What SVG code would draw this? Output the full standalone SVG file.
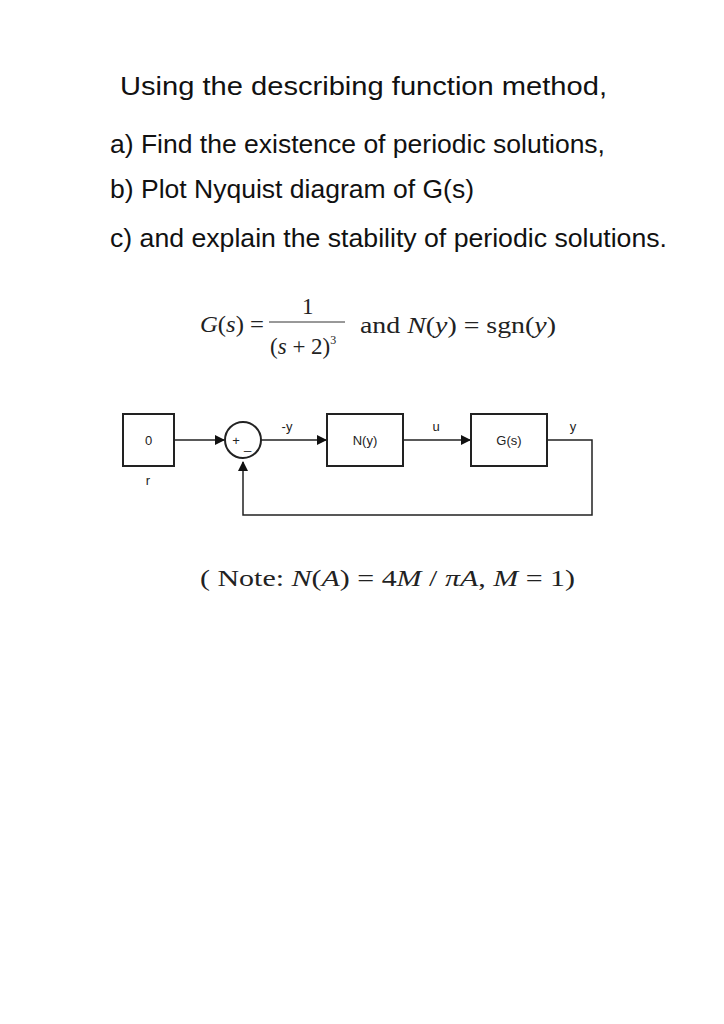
<svg xmlns="http://www.w3.org/2000/svg" width="724" height="1024" viewBox="0 0 724 1024">
<style>
.t{font-family:"Liberation Sans",Arial,sans-serif;font-size:26px;fill:#111}
.m{font-family:"Liberation Serif","Times New Roman",serif;font-size:23px;fill:#222}
.i{font-style:italic}
.b{fill:#fff;stroke:#222;stroke-width:2}
.l{font-family:"Liberation Sans",Arial,sans-serif;font-size:13px;fill:#222}
.c{fill:none;stroke:#222;stroke-width:1.5}
</style>
<defs><marker id="a" markerWidth="10" markerHeight="10" refX="9" refY="5" orient="auto" markerUnits="userSpaceOnUse"><path d="M0,0L10,5L0,10z" fill="#111"/></marker></defs>
<rect width="724" height="1024" fill="#fff"/>
<text class="t" x="120" y="95" textLength="487" lengthAdjust="spacingAndGlyphs">Using the describing function method,</text>
<text class="t" x="110" y="153" textLength="495" lengthAdjust="spacingAndGlyphs">a) Find the existence of periodic solutions,</text>
<text class="t" x="110" y="198" textLength="364" lengthAdjust="spacingAndGlyphs">b) Plot Nyquist diagram of G(s)</text>
<text class="t" x="110" y="247" textLength="557" lengthAdjust="spacingAndGlyphs">c) and explain the stability of periodic solutions.</text>
<text class="m" x="200" y="332" textLength="64" lengthAdjust="spacingAndGlyphs"><tspan class="i">G</tspan>(<tspan class="i">s</tspan>) =</text>
<text class="m" x="302" y="314">1</text>
<line x1="269" y1="322" x2="345" y2="322" stroke="#333" stroke-width="1"/>
<text class="m" x="270" y="354">(<tspan class="i">s</tspan> + 2)<tspan font-size="12" dy="-10">3</tspan></text>
<text class="m" x="360" y="333" textLength="196" lengthAdjust="spacingAndGlyphs">and <tspan class="i">N</tspan>(<tspan class="i">y</tspan>) = sgn(<tspan class="i">y</tspan>)</text>
<text class="m" x="200" y="586" textLength="375" lengthAdjust="spacingAndGlyphs">( Note: <tspan class="i">N</tspan>(<tspan class="i">A</tspan>) = 4<tspan class="i">M</tspan> / <tspan class="i">πA</tspan>,  <tspan class="i">M</tspan> = 1)</text>
<g id="conn">
<line class="c" x1="174" y1="440" x2="224" y2="440" marker-end="url(#a)"/>
<line class="c" x1="261" y1="440" x2="326" y2="440" marker-end="url(#a)"/>
<line class="c" x1="403" y1="440" x2="470" y2="440" marker-end="url(#a)"/>
<polyline class="c" points="547,440 592,440 592,515 243,515 243,462" marker-end="url(#a)"/>
</g>
<g id="r"><rect class="b" x="123" y="414" width="51" height="52"/><text class="l" x="148.5" y="445" text-anchor="middle">0</text><text class="l" x="148" y="485" text-anchor="middle">r</text></g>
<g id="sum"><circle class="b" cx="243" cy="440" r="18"/><text class="l" x="236" y="445" text-anchor="middle">+</text><text class="l" x="244" y="449">_</text></g>
<g id="N"><rect class="b" x="327" y="414" width="76" height="52"/><text class="l" x="365" y="445" text-anchor="middle">N(y)</text></g>
<g id="G"><rect class="b" x="471" y="414" width="76" height="52"/><text class="l" x="509" y="445" text-anchor="middle">G(s)</text></g>
<text class="l" x="287" y="431" text-anchor="middle">-y</text>
<text class="l" x="436" y="431" text-anchor="middle">u</text>
<text class="l" x="573" y="431" text-anchor="middle">y</text>
</svg>
